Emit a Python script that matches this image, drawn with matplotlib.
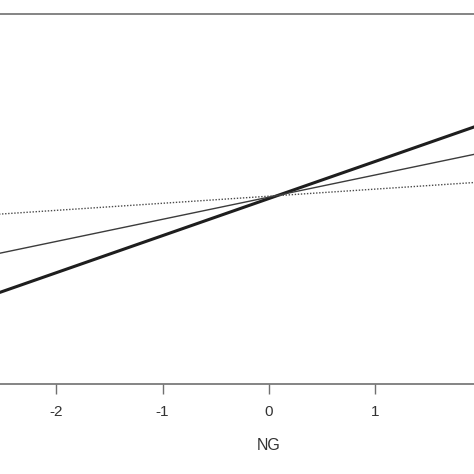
import matplotlib
matplotlib.use("Agg")
import matplotlib.pyplot as plt

# simple slopes of the outcome against NG at three moderator levels
ng = [-3, 3]
high = [1.80, 4.21]
mid = [2.30, 3.74]
low = [2.80, 3.26]
xticks = [-2, -1, 0, 1]

plt.rcParams["font.family"] = ["Liberation Sans", "DejaVu Sans"]

fig = plt.figure(figsize=(4.74, 4.74), dpi=100)
# the original is a crop: the side spines fall outside the picture
ax = fig.add_axes([-0.1065, 0.19, 1.348, 0.7805])
ax.set_xlim(-3, 3)
ax.set_ylim(1, 5)

ax.plot(ng, high, color="#1e1e1e", linewidth=2.2, linestyle="-")
ax.plot(ng, mid, color="#3c3c3c", linewidth=1.0, linestyle="-")
ax.plot(ng, low, color="#4a4a4a", linewidth=1.0, linestyle=(0, (1, 1.2)))

for s in ax.spines.values():
    s.set_color("#707070")
    s.set_linewidth(1.2)

ax.set_xticks(xticks)
ax.set_xticklabels([str(t) for t in xticks])
ax.set_yticks([])
ax.tick_params(axis="x", length=7, width=1, color="#707070", labelsize=11,
               labelcolor="#333333", pad=8)
ax.set_xlabel("NG", fontsize=11.5, color="#333333", labelpad=14)

fig.savefig("out.png", dpi=100)
